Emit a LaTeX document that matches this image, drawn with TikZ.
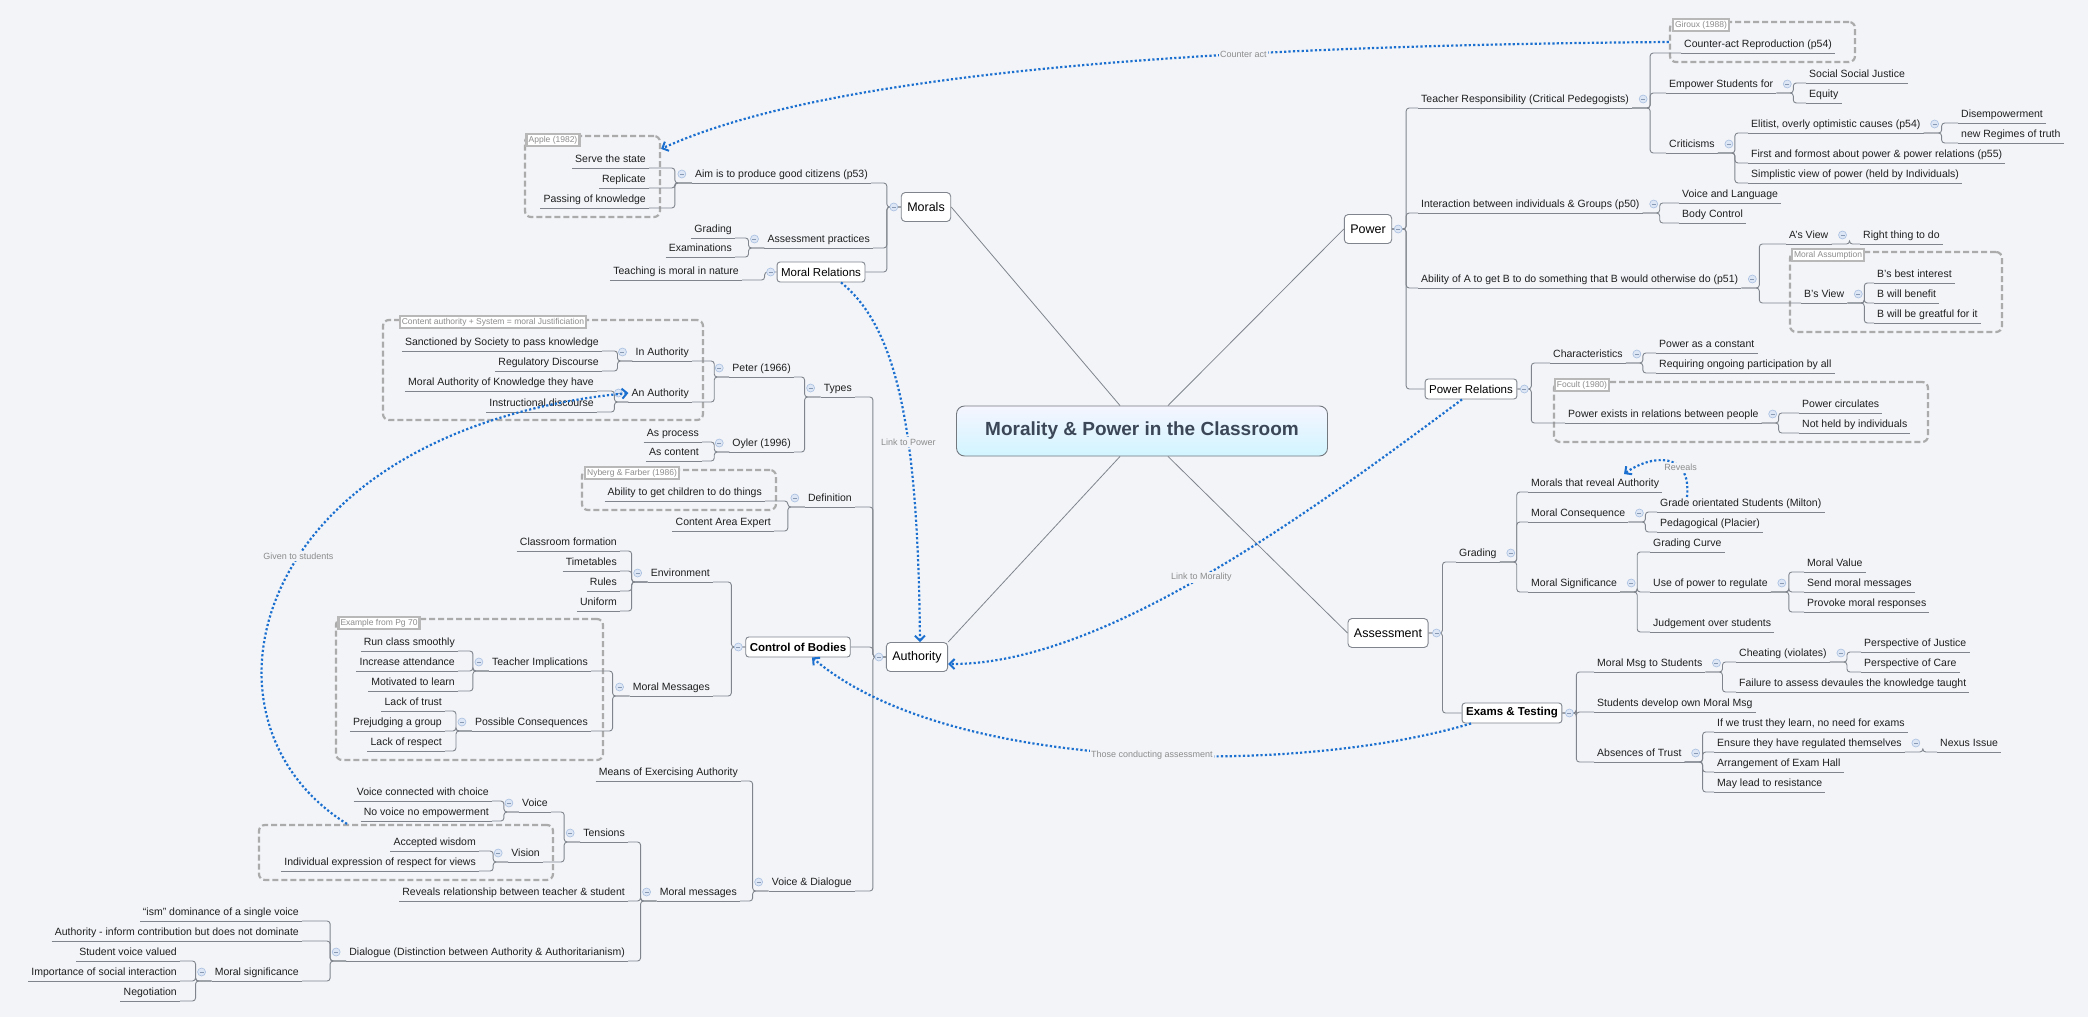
\documentclass[tikz,border=0pt]{standalone}
\usepackage{fontspec}
\setmainfont{Liberation Sans}
\usetikzlibrary{arrows.meta,calc}
\definecolor{bg}{HTML}{F2F4F8}
\definecolor{ln}{HTML}{80858D}
\definecolor{rel}{HTML}{1B6FCF}
\definecolor{grp}{HTML}{ABABAB}
\definecolor{lbl}{HTML}{8C8C8C}
\definecolor{tgf}{HTML}{DCE6F5}
\definecolor{tgd}{HTML}{A9BFE0}
\definecolor{ttl}{HTML}{3B4656}
\begin{document}
\begin{tikzpicture}[x=1pt,y=-1pt,
 conn/.style={draw=ln,line width=0.9pt,rounded corners=3pt},
 leaf/.style={font=\fontsize{10.5}{12}\selectfont,text=black!88,inner xsep=3pt,inner ysep=0pt,text height=7.5pt,text depth=5.5pt,
   append after command={(\tikzlastnode.south west) edge[draw=ln,line width=0.9pt] (\tikzlastnode.south east)}},
 L/.style={leaf,anchor=south east},
 R/.style={leaf,anchor=south west},
 main/.style={draw=ln,line width=0.9pt,fill=white,rounded corners=4pt,font=\fontsize{12.5}{14}\selectfont,inner xsep=6pt,minimum height=29pt},
 sub/.style={draw=ln,line width=0.9pt,fill=white,rounded corners=3pt,font=\fontsize{11.5}{13}\selectfont,inner xsep=4pt,inner ysep=1pt,minimum height=20pt},
 subb/.style={sub,font=\fontsize{11.5}{13}\selectfont\bfseries},
 grpbox/.style={draw=grp,line width=2.2pt,dash pattern=on 6pt off 3pt,rounded corners=6pt,inner sep=0pt},
 glab/.style={draw=grp!85,line width=2.4pt,fill=white,font=\fontsize{8.5}{10}\selectfont,text=lbl,inner sep=2pt},
 relA/.style={draw=rel,line width=2.2pt,dash pattern=on 2.2pt off 2.2pt,-{Straight Barb[length=5pt,width=10pt,line width=2pt]}},
 rlab/.style={font=\fontsize{9}{10}\selectfont,text=lbl,fill=bg,inner sep=1.5pt},
 tog/.style={circle,fill=tgf,draw=tgd,line width=0.6pt,minimum size=8pt,inner sep=0pt,
   path picture={\draw[tgd!80!black,line width=0.6pt] ([xshift=-2pt]path picture bounding box.center)--([xshift=2pt]path picture bounding box.center);}}
]
\newcommand\LK[5]{\draw[conn] (#1.#2) -| ([xshift=-#5pt]#3.#4) -- (#3.#4);}
\newcommand\RK[5]{\draw[conn] (#1.#2) -- ([xshift=#5pt]#1.#2) |- (#3.#4);}
\fill[bg] (0,0) rectangle (2088,1017);
\useasboundingbox (0,0) rectangle (2088,1017);

% group boxes
\node[grpbox,minimum width=135pt,minimum height=81pt] (gApple) at (592.5,176.5) {};
\node[grpbox,minimum width=320pt,minimum height=100pt] (gCont) at (543,370) {};
\node[grpbox,minimum width=194pt,minimum height=40pt] (gNyb) at (679,490) {};
\node[grpbox,minimum width=267pt,minimum height=141pt] (gEx) at (469.5,689.5) {};
\node[grpbox,minimum width=294pt,minimum height=55pt] (gVis) at (406,852.5) {};
\node[grpbox,minimum width=185pt,minimum height=40pt] (gGir) at (1762.5,42) {};
\node[grpbox,minimum width=212pt,minimum height=80pt] (gMA) at (1896,292) {};
\node[grpbox,minimum width=374pt,minimum height=60pt] (gFoc) at (1741,412) {};
\node[glab] (lApple) at (553,140) {Apple (1982)};
\node[glab] (lCont) at (493,322) {Content authority + System = moral Justificiation};
\node[glab] (lNyb) at (632,473) {Nyberg \& Farber (1986)};
\node[glab] (lEx) at (379,623) {Example from Pg 70};
\node[glab] (lGir) at (1701,25) {Giroux (1988)};
\node[glab] (lMA) at (1828,255) {Moral Assumption};
\node[glab] (lFoc) at (1582,385) {Focult (1980)};

% centre
\node[draw=ln!90!black,line width=0.9pt,rounded corners=8pt,top color=blue!4!white,bottom color=blue!22!cyan!18!white,
  minimum width=371pt,minimum height=50pt,font=\fontsize{19}{21}\selectfont\bfseries,text=ttl] (c) at (1142,431) {Morality \& Power in the Classroom};
\node[main] (morals) at (926,207) {Morals};
\node[main] (power) at (1368,229) {Power};
\node[main] (auth) at (917,657) {Authority};
\node[main] (assess) at (1388,633) {Assessment};
\draw[ln,line width=0.8pt] ([xshift=-22pt]c.north) -- (morals.east);
\draw[ln,line width=0.8pt] ([xshift=26pt]c.north) -- (power.west);
\draw[ln,line width=0.8pt] ([xshift=-22pt]c.south) -- (auth.north east);
\draw[ln,line width=0.8pt] ([xshift=26pt]c.south) -- (assess.west);

% ---- Morals branch
\node[sub] (mrel) at (821,272) {Moral Relations};
\node[L] (aim) at (871,183) {Aim is to produce good citizens (p53)};
\node[L] (serve) at (649,168) {Serve the state};
\node[L] (repl) at (649,188) {Replicate};
\node[L] (pass) at (649,208) {Passing of knowledge};
\node[L] (asp) at (873,248) {Assessment practices};
\node[L] (grd) at (735,238) {Grading};
\node[L] (exm) at (735,257) {Examinations};
\node[L] (teach) at (742,280) {Teaching is moral in nature};
\LK{aim}{south east}{morals}{west}{14}
\LK{asp}{south east}{morals}{west}{14}
\LK{mrel}{east}{morals}{west}{14}
\foreach \n in {serve,repl,pass}{\LK{\n}{south east}{aim}{south west}{17}}
\foreach \n in {grd,exm}{\LK{\n}{south east}{asp}{south west}{16}}
\LK{teach}{south east}{mrel}{west}{12}

% ---- Authority branch
\node[L] (types) at (855,397) {Types};
\node[L] (peter) at (794,377) {Peter (1966)};
\node[L] (oyler) at (794,452) {Oyler (1996)};
\node[L] (inA) at (692,361) {In Authority};
\node[L] (anA) at (692,402) {An Authority};
\node[L] (sanc) at (602,351) {Sanctioned by Society to pass knowledge};
\node[L] (reg) at (602,371) {Regulatory Discourse};
\node[L] (mak) at (597,391) {Moral Authority of Knowledge they have};
\node[L] (instr) at (597,412) {Instructional discourse};
\node[L] (asproc) at (702,442) {As process};
\node[L] (ascont) at (702,461) {As content};
\node[L] (defn) at (855,507) {Definition};
\node[L] (ability) at (765,501) {Ability to get children to do things};
\node[L] (cae) at (774,531) {Content Area Expert};
\node[subb] (cob) at (798,647) {Control of Bodies};
\node[L] (env) at (713,582) {Environment};
\node[L] (classf) at (620,551) {Classroom formation};
\node[L] (timet) at (620,571) {Timetables};
\node[L] (rules) at (620,591) {Rules};
\node[L] (unif) at (620,611) {Uniform};
\node[L] (mm) at (713,696) {Moral Messages};
\node[L] (ti) at (591,671) {Teacher Implications};
\node[L] (pc) at (591,731) {Possible Consequences};
\node[L] (run) at (458,651) {Run class smoothly};
\node[L] (inc) at (458,671) {Increase attendance};
\node[L] (mot) at (458,691) {Motivated to learn};
\node[L] (lot) at (445,711) {Lack of trust};
\node[L] (prej) at (445,731) {Prejudging a group};
\node[L] (lor) at (445,751) {Lack of respect};
\node[L] (vd) at (855,891) {Voice \& Dialogue};
\node[L] (meA) at (741,781) {Means of Exercising Authority};
\node[L] (mmsg) at (740,901) {Moral messages};
\node[L] (tens) at (628,842) {Tensions};
\node[L] (rev) at (628,901) {Reveals relationship between teacher \& student};
\node[L] (dial) at (628,961) {Dialogue (Distinction between Authority \& Authoritarianism)};
\node[L] (voice) at (551,812) {Voice};
\node[L] (vision) at (543,862) {Vision};
\node[L] (vcc) at (492,801) {Voice connected with choice};
\node[L] (nvne) at (492,821) {No voice no empowerment};
\node[L] (accw) at (479,851) {Accepted wisdom};
\node[L] (indiv) at (479,871) {Individual expression of respect for views};
\node[L] (ism) at (302,921) {“ism” dominance of a single voice};
\node[L] (authinf) at (302,941) {Authority - inform contribution but does not dominate};
\node[L] (msig) at (302,981) {Moral significance};
\node[L] (svv) at (180,961) {Student voice valued};
\node[L] (imp) at (180,981) {Importance of social interaction};
\node[L] (neg) at (180,1001) {Negotiation};
\foreach \n in {types,defn,vd}{\LK{\n}{south east}{auth}{west}{13}}
\LK{cob}{east}{auth}{west}{13}
\foreach \n in {peter,oyler}{\LK{\n}{south east}{types}{south west}{16}}
\foreach \n in {inA,anA}{\LK{\n}{south east}{peter}{south west}{15}}
\foreach \n in {sanc,reg}{\LK{\n}{south east}{inA}{south west}{15}}
\foreach \n in {mak,instr}{\LK{\n}{south east}{anA}{south west}{14}}
\foreach \n in {asproc,ascont}{\LK{\n}{south east}{oyler}{south west}{15}}
\foreach \n in {ability,cae}{\LK{\n}{south east}{defn}{south west}{17}}
\foreach \n in {env,mm}{\LK{\n}{south east}{cob}{west}{14}}
\foreach \n in {classf,timet,rules,unif}{\LK{\n}{south east}{env}{south west}{16}}
\foreach \n in {ti,pc}{\LK{\n}{south east}{mm}{south west}{17}}
\foreach \n in {run,inc,mot}{\LK{\n}{south east}{ti}{south west}{16}}
\foreach \n in {lot,prej,lor}{\LK{\n}{south east}{pc}{south west}{16}}
\foreach \n in {meA,mmsg}{\LK{\n}{south east}{vd}{south west}{16}}
\foreach \n in {tens,rev,dial}{\LK{\n}{south east}{mmsg}{south west}{16}}
\foreach \n in {voice,vision}{\LK{\n}{south east}{tens}{south west}{16}}
\foreach \n in {vcc,nvne}{\LK{\n}{south east}{voice}{south west}{15}}
\foreach \n in {accw,indiv}{\LK{\n}{south east}{vision}{south west}{15}}
\foreach \n in {ism,authinf,msig}{\LK{\n}{south east}{dial}{south west}{16}}
\foreach \n in {svv,imp,neg}{\LK{\n}{south east}{msig}{south west}{16}}

% ---- Power branch
\node[R] (tr) at (1418,108) {Teacher Responsibility (Critical Pedegogists)};
\node[R] (inter) at (1418,213) {Interaction between individuals \& Groups (p50)};
\node[R] (abil) at (1418,288) {Ability of A to get B to do something that B would otherwise do (p51)};
\node[sub] (prel) at (1471,389) {Power Relations};
\node[R] (cr) at (1681,53) {Counter-act Reproduction (p54)};
\node[R] (emp) at (1666,93) {Empower Students for};
\node[R] (crit) at (1666,153) {Criticisms};
\node[R] (ssj) at (1806,83) {Social Social Justice};
\node[R] (eq) at (1806,103) {Equity};
\node[R] (elit) at (1748,133) {Elitist, overly optimistic causes (p54)};
\node[R] (first) at (1748,163) {First and formost about power \& power relations (p55)};
\node[R] (simp) at (1748,183) {Simplistic view of power (held by Individuals)};
\node[R] (dis) at (1958,123) {Disempowerment};
\node[R] (nrt) at (1958,143) {new Regimes of truth};
\node[R] (val) at (1679,203) {Voice and Language};
\node[R] (bc) at (1679,223) {Body Control};
\node[R] (av) at (1786,244) {A's View};
\node[R] (rtd) at (1860,244) {Right thing to do};
\node[R] (bv) at (1801,303) {B's View};
\node[R] (bbi) at (1874,283) {B's best interest};
\node[R] (bwb) at (1874,303) {B will benefit};
\node[R] (bwg) at (1874,323) {B will be greatful for it};
\node[R] (char) at (1550,363) {Characteristics};
\node[R] (pex) at (1565,423) {Power exists in relations between people};
\node[R] (pac) at (1656,353) {Power as a constant};
\node[R] (rop) at (1656,373) {Requiring ongoing participation by all};
\node[R] (pcirc) at (1799,413) {Power circulates};
\node[R] (nhbi) at (1799,433) {Not held by individuals};
\foreach \n in {tr,inter,abil}{\RK{power}{east}{\n}{south west}{14}}
\RK{power}{east}{prel}{west}{14}
\foreach \n in {cr,emp,crit}{\RK{tr}{south east}{\n}{south west}{18}}
\foreach \n in {ssj,eq}{\RK{emp}{south east}{\n}{south west}{17}}
\foreach \n in {elit,first,simp}{\RK{crit}{south east}{\n}{south west}{17}}
\foreach \n in {dis,nrt}{\RK{elit}{south east}{\n}{south west}{18}}
\foreach \n in {val,bc}{\RK{inter}{south east}{\n}{south west}{17}}
\foreach \n in {av,bv}{\RK{abil}{south east}{\n}{south west}{18}}
\RK{av}{south east}{rtd}{south west}{18}
\foreach \n in {bbi,bwb,bwg}{\RK{bv}{south east}{\n}{south west}{17}}
\foreach \n in {char,pex}{\RK{prel}{east}{\n}{south west}{14}}
\foreach \n in {pac,rop}{\RK{char}{south east}{\n}{south west}{17}}
\foreach \n in {pcirc,nhbi}{\RK{pex}{south east}{\n}{south west}{17}}

% ---- Assessment branch
\node[R] (grading) at (1456,562) {Grading};
\node[subb] (exams) at (1512,713) {Exams \& Testing};
\node[R] (mrA) at (1528,492) {Morals that reveal Authority};
\node[R] (mcons) at (1528,522) {Moral Consequence};
\node[R] (msigR) at (1528,592) {Moral Significance};
\node[R] (gos) at (1657,512) {Grade orientated Students (Milton)};
\node[R] (ped) at (1657,532) {Pedagogical (Placier)};
\node[R] (gc) at (1650,552) {Grading Curve};
\node[R] (upr) at (1650,592) {Use of power to regulate};
\node[R] (jos) at (1650,632) {Judgement over students};
\node[R] (mv) at (1804,572) {Moral Value};
\node[R] (smm) at (1804,592) {Send moral messages};
\node[R] (pmr) at (1804,612) {Provoke moral responses};
\node[R] (mmts) at (1594,672) {Moral Msg to Students};
\node[R] (sdom) at (1594,712) {Students develop own Moral Msg};
\node[R] (aot) at (1594,762) {Absences of Trust};
\node[R] (cheat) at (1736,662) {Cheating (violates)};
\node[R] (fail) at (1736,692) {Failure to assess devaules the knowledge taught};
\node[R] (poj) at (1861,652) {Perspective of Justice};
\node[R] (poc) at (1861,672) {Perspective of Care};
\node[R] (iftr) at (1714,732) {If we trust they learn, no need for exams};
\node[R] (ens) at (1714,752) {Ensure they have regulated themselves};
\node[R] (arr) at (1714,772) {Arrangement of Exam Hall};
\node[R] (mlr) at (1714,792) {May lead to resistance};
\node[R] (nex) at (1937,752) {Nexus Issue};
\RK{assess}{east}{grading}{south west}{14}
\RK{assess}{east}{exams}{west}{14}
\foreach \n in {mrA,mcons,msigR}{\RK{grading}{south east}{\n}{south west}{17}}
\foreach \n in {gos,ped}{\RK{mcons}{south east}{\n}{south west}{17}}
\foreach \n in {gc,upr,jos}{\RK{msigR}{south east}{\n}{south west}{17}}
\foreach \n in {mv,smm,pmr}{\RK{upr}{south east}{\n}{south west}{18}}
\foreach \n in {mmts,sdom,aot}{\RK{exams}{east}{\n}{south west}{14}}
\foreach \n in {cheat,fail}{\RK{mmts}{south east}{\n}{south west}{17}}
\foreach \n in {poj,poc}{\RK{cheat}{south east}{\n}{south west}{17}}
\foreach \n in {iftr,ens,arr,mlr}{\RK{aot}{south east}{\n}{south west}{18}}
\RK{ens}{south east}{nex}{south west}{18}

% toggles
\foreach \n in {aim,asp,types,peter,inA,anA,oyler,defn,env,mm,ti,pc,vd,mmsg,tens,voice,vision,dial,msig}
  {\node[tog] at ([xshift=-10pt,yshift=9pt]\n.south west) {};}
\foreach \n in {tr,emp,crit,elit,inter,abil,av,bv,char,pex,grading,mcons,msigR,upr,mmts,cheat,aot,ens}
  {\node[tog] at ([xshift=11pt,yshift=9pt]\n.south east) {};}
\foreach \n/\d in {morals/7,mrel/6,auth/7,cob/7}{\node[tog] at ([xshift=-\d pt]\n.west) {};}
\foreach \n/\d in {power/6,prel/7,assess/8,exams/7}{\node[tog] at ([xshift=\d pt]\n.east) {};}

% relationships
\draw[relA] (gGir.west) .. controls (1300,45) and (850,62) .. ([yshift=-14pt]gApple.north east)
  node[rlab,pos=0.37] {Counter act};
\draw[relA] ([xshift=20pt]mrel.south) .. controls (900,330) and (918,440) .. ([xshift=3pt]auth.north)
  node[rlab,pos=0.6] {Link to Power};
\draw[relA] ([xshift=-9pt]prel.south) .. controls (1300,520) and (1100,665) .. ([yshift=-7pt]auth.east)
  node[rlab,pos=0.5] {Link to Morality};
\draw[relA] ([xshift=-41pt]exams.south) .. controls (1300,775) and (950,775) .. ([xshift=14pt]cob.south)
  node[rlab,pos=0.47] {Those conducting assessment};
\draw[relA] ([xshift=-59pt]gVis.north) .. controls (180,720) and (250,430) .. ([yshift=9pt]anA.south west)
  node[rlab,pos=0.55] {Given to students};
\coordinate (revS) at (1687,497);
\coordinate (revE) at (1624,474);
\draw[relA] (revS) .. controls (1692,450) and (1650,455) .. (revE)
  node[rlab,pos=0.3] {Reveals};
\end{tikzpicture}
\end{document}
